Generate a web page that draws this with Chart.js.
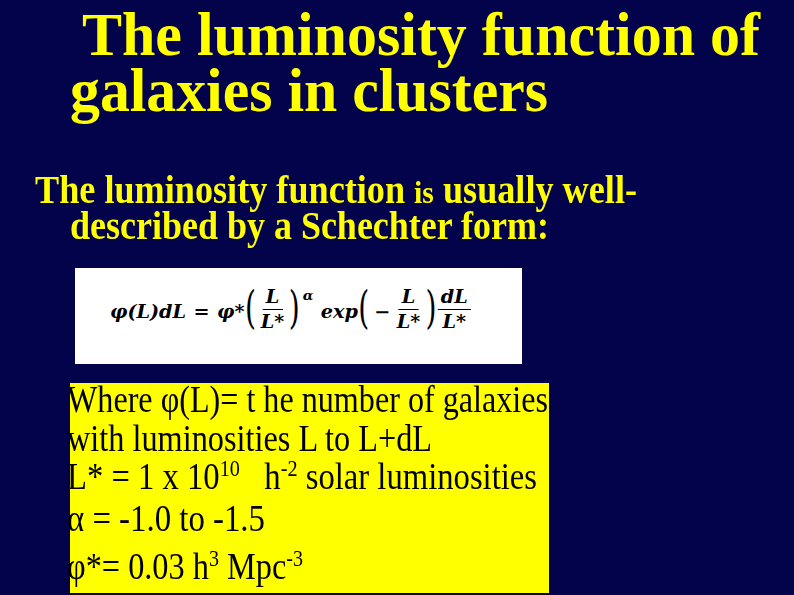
<!DOCTYPE html>
<html>
<head>
<meta charset="utf-8">
<script src="https://cdn.jsdelivr.net/npm/chart.js@4.4.1/dist/chart.umd.min.js"></script>
<style>
  html,body{margin:0;padding:0;width:794px;height:595px;overflow:hidden;background:#03034c;}
  #bg{position:absolute;left:0;top:0;width:794px;height:595px;}
  .t{position:absolute;white-space:nowrap;line-height:1;font-family:"Liberation Serif","Times New Roman",serif;transform-origin:0 0;}
  .y{color:#ffff00;font-weight:bold;}
  .n{color:#000;font-weight:normal;}
  sup{font-size:0.62em;vertical-align:0;position:relative;top:-0.55em;}
  .box{position:absolute;}
  #formula{position:absolute;left:75px;top:268px;width:447px;height:96px;background:#fff;overflow:hidden;}
  #fm{position:absolute;left:35px;top:20px;height:46px;display:flex;align-items:center;font-family:"DejaVu Serif",serif;font-style:italic;font-weight:bold;font-size:18px;color:#000;white-space:nowrap;transform-origin:0 50%;}
  .frac{display:inline-flex;flex-direction:column;align-items:center;margin:0 1px;position:relative;top:-2px;}
  .frac .num{border-bottom:1.5px solid #000;padding:0 3px 3px 3px;line-height:1;}
  .frac .den{padding:3px 3px 0 3px;line-height:1;}
  .par{font-family:"DejaVu Serif",serif;font-style:normal;font-weight:normal;font-size:44px;line-height:1;transform:scaleX(0.6);display:inline-block;margin:0 -3px;position:relative;top:-3px;}
  .sp{display:inline-block;width:7px;}
  .fsup{font-size:13px;position:relative;top:-16px;margin-left:2px;}
</style>
</head>
<body>
<canvas id="bg" width="794" height="595"></canvas>
<div id="formula"><div id="fm"></div></div>
<div class="box" style="left:70px;top:383px;width:479px;height:210px;background:#ffff00;"></div>
<div id="texts"></div>
<script>
// ---- content (text data) ----
const titleLines = ["The luminosity function of", "galaxies in clusters"];
const introLines = ["The luminosity function <span style=\"font-size:0.82em\">is</span>  usually well-", "described by a Schechter form:"];
const noteLines = [
  "Where \u03C6(L)= t he number of galaxies",
  "with luminosities L to L+dL",
  "L* = 1 x 10<sup>10</sup> &nbsp; h<sup>-2</sup> solar luminosities",
  "\u03B1 = -1.0 to -1.5",
  "\u03C6*= 0.03 h<sup>3</sup> Mpc<sup>-3</sup>"
];
const formulaParts = ["\u03C6(L)dL", "=", "\u03C6*", "L", "L*", "\u03B1", "exp", "\u2212", "L", "L*", "dL", "L*"];

// ---- layout for text lines: [left, baseline, fontSize, targetWidth] ----
const titleLayout = [[82,55,62,678],[70,111,62,478]];
const introLayout = [[35,203,39,602],[70,239,39,479]];
const noteLayout = [[67,412,38,481],[67,451,38,365],[67,489,38,470],[67,531,38,198],[67,579,38,236]];

const holder = document.getElementById('texts');
function place(lines, layout, cls){
  lines.forEach((txt,i)=>{
    const [x,base,fs,w] = layout[i];
    const d = document.createElement('div');
    d.className = 't ' + cls;
    d.style.fontSize = fs + 'px';
    d.style.left = x + 'px';
    d.style.top = (base - 0.8375*fs) + 'px';
    d.innerHTML = txt;
    holder.appendChild(d);
    const nat = d.getBoundingClientRect().width;
    d.style.transform = 'scaleX(' + (w/nat) + ')';
  });
}
place(titleLines, titleLayout, 'y');
place(introLines, introLayout, 'y');
place(noteLines, noteLayout, 'n');

// formula
const f = formulaParts;
const fm = document.getElementById('fm');
fm.innerHTML =
  '<span>'+f[0]+'</span><span class="sp"></span><span style="font-style:normal">'+f[1]+'</span><span class="sp"></span>' +
  '<span>'+f[2]+'</span>' +
  '<span class="par">(</span><span class="frac"><span class="num">'+f[3]+'</span><span class="den">'+f[4]+'</span></span><span class="par">)</span>' +
  '<span class="fsup">'+f[5]+'</span><span class="sp"></span>' +
  '<span>'+f[6]+'</span>' +
  '<span class="par">(</span><span style="font-style:normal;margin:0 2px 0 4px">'+f[7]+'</span><span class="frac"><span class="num">'+f[8]+'</span><span class="den">'+f[9]+'</span></span><span class="par">)</span>' +
  '<span class="frac"><span class="num">'+f[10]+'</span><span class="den">'+f[11]+'</span></span>';
const fmW = fm.getBoundingClientRect().width;
fm.style.transform = 'scaleX(' + (362/fmW) + ')';

// ---- Chart.js: background canvas (no plotted series on this slide) ----
const bgPlugin = {
  id:'slideBg',
  beforeDraw(chart){
    const c = chart.ctx;
    c.save();
    c.fillStyle = '#03034c';
    c.fillRect(0,0,chart.width,chart.height);
    c.restore();
  }
};
new Chart(document.getElementById('bg'), {
  type:'scatter',
  data:{datasets:[{data:[]}]},
  options:{
    responsive:false,
    animation:false,
    plugins:{legend:{display:false},tooltip:{enabled:false}},
    scales:{x:{display:false},y:{display:false}}
  },
  plugins:[bgPlugin]
});
</script>
</body>
</html>
